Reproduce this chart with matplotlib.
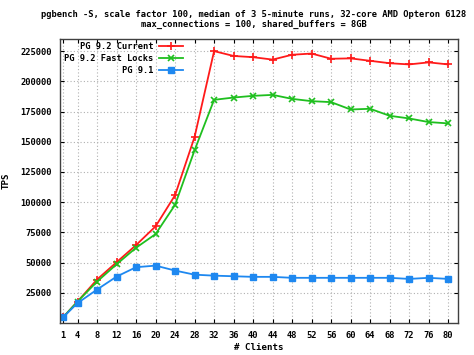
import matplotlib
matplotlib.use('Agg')
import matplotlib.pyplot as plt

clients = [1, 4, 8, 12, 16, 20, 24, 28, 32, 36, 40, 44, 48, 52, 56, 60, 64, 68, 72, 76, 80]
pg92_current = [4600, 17800, 36000, 50300, 64500, 80000, 105800, 154000, 225000, 221000,
                220000, 218000, 222000, 223000, 218700, 219000, 217000, 215000, 214000, 215700, 214000]
pg92_fast = [4600, 17800, 34300, 48600, 62300, 73600, 97800, 143000, 184700, 186600,
             188000, 188800, 185500, 183600, 182800, 176700, 177300, 171500, 169300, 166300, 165200]
pg91 = [4600, 16500, 27700, 38400, 46200, 47500, 43400, 40000, 39200, 38700,
        38200, 38200, 37400, 37400, 37400, 37400, 37400, 37400, 36500, 37400, 36500]
yticks = [25000, 50000, 75000, 100000, 125000, 150000, 175000, 200000, 225000]

font = 'DejaVu Sans Mono'
fs = 6.3

fig = plt.figure(figsize=(4.74, 3.55), dpi=100)
ax = fig.add_axes([0.1266, 0.0901, 0.8394, 0.7999])

ax.plot(clients, pg92_current, color='#ff1a1a', lw=1.3, marker='+', ms=6, mew=1.2, label='PG 9.2 Current')
ax.plot(clients, pg92_fast, color='#1fbf1f', lw=1.3, marker='x', ms=5, mew=1.2, label='PG 9.2 Fast Locks')
ax.plot(clients, pg91, color='#1e88f0', lw=1.3, marker='s', ms=4.5, label='PG 9.1')

ax.set_xlim(0.4, 82)
ax.set_ylim(0, 235000)
ax.set_xticks(clients)
ax.set_yticks(yticks)
ax.set_xticklabels([str(c) for c in clients], fontfamily=font, fontweight='bold', fontsize=fs)
ax.set_yticklabels([str(v) for v in yticks], fontfamily=font, fontweight='bold', fontsize=fs)
ax.tick_params(direction='in', length=3, top=True, right=True, pad=6, width=0.8)
ax.grid(True, color='#b0b0b0', linestyle=(0, (1, 2)), lw=0.8)
for s in ax.spines.values():
    s.set_color('#404040')
    s.set_linewidth(1.0)

ax.set_xlabel('# Clients', fontfamily=font, fontweight='bold', fontsize=fs + 0.3, labelpad=2)
ax.set_ylabel('TPS', fontfamily=font, fontweight='bold', fontsize=fs + 0.3, labelpad=7)

fig.text(0.535, 0.958, 'pgbench -S, scale factor 100, median of 3 5-minute runs, 32-core AMD Opteron 6128',
         ha='center', va='center', fontfamily=font, fontweight='bold', fontsize=fs)
fig.text(0.535, 0.930, 'max_connections = 100, shared_buffers = 8GB',
         ha='center', va='center', fontfamily=font, fontweight='bold', fontsize=fs)

leg = ax.legend(loc='upper left', bbox_to_anchor=(-0.005, 1.01), frameon=False, markerfirst=False,
                prop={'family': font, 'weight': 'bold', 'size': fs}, handlelength=2.8,
                handletextpad=0.6, labelspacing=0.35, borderaxespad=0.3)

fig.savefig('out.png', dpi=100)
